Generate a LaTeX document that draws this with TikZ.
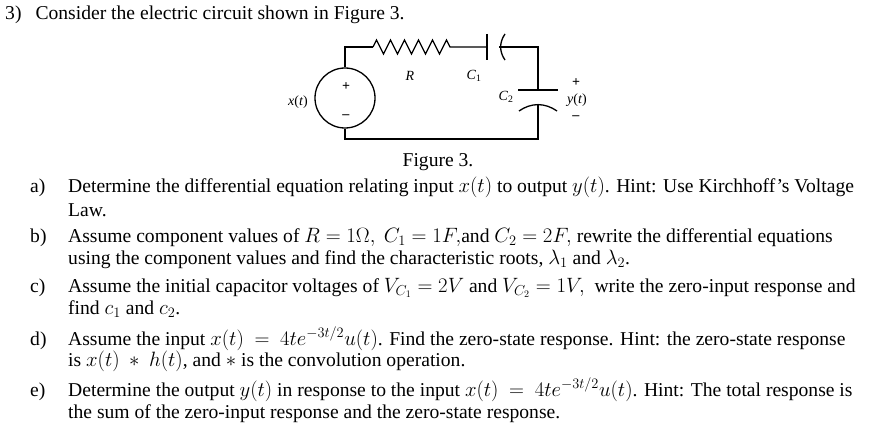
\documentclass[tikz,border=0pt]{standalone}
\usepackage{fontspec}
\setmainfont{Liberation Serif}
\begin{document}
\begin{tikzpicture}[x=1pt,y=-1pt,
  txt/.style={anchor=base west,inner sep=0pt,font=\fontsize{19.6}{22}\selectfont},
  lab/.style={inner sep=0pt,font=\fontsize{14}{16}\selectfont},
  wire/.style={line width=1.3pt}]
\useasboundingbox (0,0) rectangle (870,433);
% circuit
\node[draw,wire,circle,minimum size=60pt,inner sep=0pt] (src) at (345,98) {};
\coordinate (tl) at (345,47);
\coordinate (bl) at (345,139);
\coordinate (br) at (538,139);
\coordinate (tr) at (538,47);
\coordinate (r1) at (373,47);
\coordinate (c1a) at (487,47);
\coordinate (c2a) at (538,90);
\coordinate (c2b) at (538,104);
\draw[wire] (src.north) -- (tl) -- (r1);
\draw[wire] (r1) -- ++(3.5,-7) \foreach \i in {1,...,5}{ -- ++(7,14) -- ++(7,-14)} -- ++(3.5,7) -- (c1a);
\draw[wire] (c1a)+(0,-13) -- +(0,13);
\draw[wire] (505,34) to[bend right=35] (505,60);
\draw[wire] (499,47) -- (tr) -- (c2a);
\draw[wire] (c2a)+(-20,0) -- +(20,0);
\draw[wire] (519,111) to[bend left=35] (557,111);
\draw[wire] (c2b) -- (br) -- (bl) -- (src.south);
\node[lab] (xl) at (298,102) {\textit{x}(\textit{t})};
\node[lab] (sp) at (346,87) {\textbf{+}};
\node[lab] (sm) at (346,117) {\textbf{--}};
\node[lab] (rl) at (410,76) {\textit{R}};
\node[lab] (c1l) at (474,76) {\textit{C}\textsubscript{1}};
\node[lab] (c2l) at (506,97) {\textit{C}\textsubscript{2}};
\node[lab] (yp) at (576,83) {\textbf{+}};
\node[lab] (yl) at (577,100) {\textit{y}(\textit{t})};
\node[lab] (ym) at (576,118) {\textbf{--}};
\node[txt,anchor=base] (fig) at (438,166) {Figure 3.};
% text
\node[txt] (h) at (5,20) {3)\hspace{14pt}Consider the electric circuit shown in Figure 3.};
\node[txt] (a) at (30,193) {a)};
\node[txt] (at1) at (68,193) {Determine the differential equation relating input $x(t)$ to output $y(t)$. Hint: Use Kirchhoff's Voltage};
\node[txt] (at2) at (68,216) {Law.};
\node[txt] (b) at (30,242) {b)};
\node[txt] (bt1) at (68,242) {Assume component values of $R=1\Omega,\ C_1=1F,$and $C_2=2F,$ rewrite the differential equations};
\node[txt] (bt2) at (68,264) {using the component values and find the characteristic roots, $\lambda_1$ and $\lambda_2$.};
\node[txt] (c) at (30,292) {c)};
\node[txt] (ct1) at (68,292) {Assume the initial capacitor voltages of $V_{C_1}=2V$ and $V_{C_2}=1V,$ \ write the zero-input response and};
\node[txt] (ct2) at (68,314) {find $c_1$ and $c_2$.};
\node[txt] (d) at (30,345) {d)};
\node[txt] (dt1) at (68,345) {Assume the input $x(t)\ =\ 4te^{-3t/2}u(t)$. Find the zero-state response. Hint: the zero-state response};
\node[txt] (dt2) at (68,366) {is $x(t)\ *\ h(t)$, and $*$ is the convolution operation.};
\node[txt] (e) at (30,396) {e)};
\node[txt] (et1) at (68,396) {Determine the output $y(t)$ in response to the input $x(t)\ =\ 4te^{-3t/2}u(t)$. Hint: The total response is};
\node[txt] (et2) at (68,418) {the sum of the zero-input response and the zero-state response.};
\end{tikzpicture}
\end{document}
